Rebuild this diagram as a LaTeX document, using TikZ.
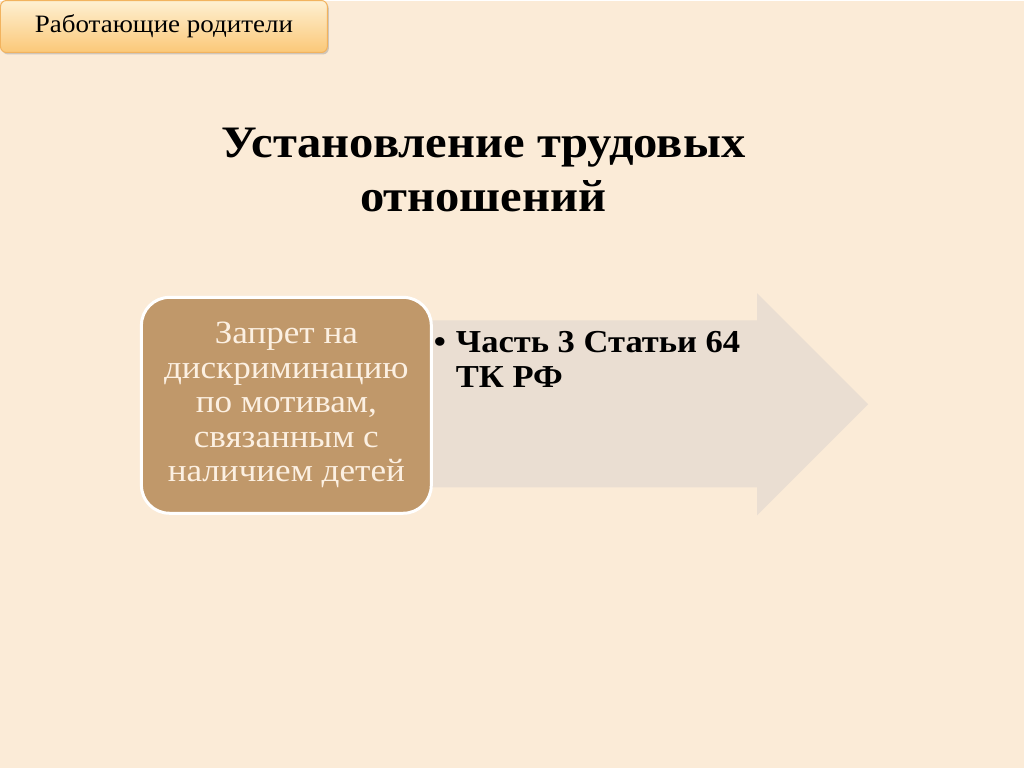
\documentclass[tikz,border=0pt]{standalone}
\usepackage{fontspec}
\setmainfont[FakeStretch=1.08]{Liberation Serif}
\usetikzlibrary{shadows}
\definecolor{bg}{HTML}{FBEBD7}
\definecolor{tan}{HTML}{C0986A}
\definecolor{arr}{HTML}{EADED2}
\definecolor{btntop}{HTML}{FEF0D2}
\definecolor{btnbot}{HTML}{FBC878}
\definecolor{btnline}{HTML}{F2B35E}
\definecolor{cream}{HTML}{FCF0E2}

\begin{document}
\begin{tikzpicture}[x=1pt,y=-1pt,
  btn/.style={draw=btnline,line width=1pt,rounded corners=6pt,top color=btntop,bottom color=btnbot,
    drop shadow={shadow xshift=1.5pt,shadow yshift=-2pt,opacity=.35},minimum width=327pt,minimum height=52pt,
    font=\fontsize{25}{28}\selectfont},
  ttl/.style={font=\fontsize{45}{54}\selectfont\bfseries,align=center},
  box/.style={fill=tan,draw=white,line width=3pt,rounded corners=28pt,minimum width=290pt,minimum height=216pt,
    text=cream,align=center,font=\fontsize{32.5}{34.5}\selectfont},
  pt/.style={font=\fontsize{32}{35}\selectfont\bfseries,align=left,anchor=north west}]
\fill[bg] (0,0) rectangle (1024,768);
\node[btn] (parents) at (163.5,26) {Работающие родители};
\node[ttl] (title) at (483,170) {Установление трудовых\\отношений};
% arrow
\coordinate (a1) at (420,320);
\coordinate (a2) at (757,320);
\coordinate (a3) at (757,293);
\coordinate (tip) at (868,404);
\coordinate (a5) at (757,515);
\coordinate (a6) at (757,487);
\coordinate (a7) at (420,487);
\fill[arr] (a1) -- (a2) -- (a3) -- (tip) -- (a5) -- (a6) -- (a7) -- cycle;
\node[box] (ban) at (286,405) {Запрет на\\дискриминацию\\по мотивам,\\связанным с\\наличием детей};
\node[pt] (law) at (430,327) {\textbullet\hspace{10pt}Часть 3 Статьи 64\\\hphantom{\textbullet}\hspace{10pt}ТК РФ};
\end{tikzpicture}
\end{document}
